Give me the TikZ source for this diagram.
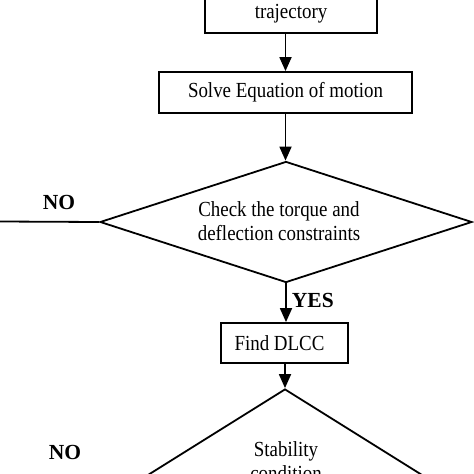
\documentclass[tikz,border=0pt]{standalone}
\usepackage{fontspec}
\setmainfont{Liberation Serif}
\newfontfamily\condserif[FakeStretch=0.88]{Liberation Serif}
\usetikzlibrary{arrows.meta,shapes.geometric}
\begin{document}
\begin{tikzpicture}[x=1pt,y=-1pt,
  line width=1.8pt,
  txt/.style={font=\condserif\fontsize{21.5}{24}\selectfont, inner sep=0pt, align=center},
  lbl/.style={font=\fontsize{21.5}{24}\selectfont\bfseries, inner sep=0pt},
  procbox/.style={draw, rectangle, inner sep=0pt, font=\condserif\fontsize{21.5}{24}\selectfont},
  decision/.style={draw, diamond, inner sep=0pt, shape aspect=3},
  flow/.style={-{Triangle[width=12pt,length=14pt]}}
]
\useasboundingbox (0,0) rectangle (474,474);
\clip (0,0) rectangle (474,474);
\fill[white] (0,0) rectangle (474,474);

% top box (cut by the upper edge)
\node[procbox, anchor=base, text height=45pt, text depth=15pt, minimum width=172pt] (traj) at (291,18) {trajectory};

% solve box
\node[procbox, minimum width=253pt, minimum height=41pt] (solve) at (285.5,92.5) {Solve Equation of motion};

% first decision
\node[decision, minimum width=372pt, minimum height=121pt] (d1) at (286,222) {};
\node[txt] (d1text) at (279,221) {Check the torque and\\deflection constraints};

% find DLCC box
\node[procbox, minimum width=127pt, minimum height=40pt] (dlcc) at (284.5,343) {};
\node[txt] (dlcctext) at (279.5,343) {Find DLCC};

% second decision (cut by the lower edge)
\node[decision, minimum width=278pt, minimum height=174pt, shape aspect=1.6] (d2) at (285,476) {};
\node[txt, anchor=base] (d2text) at (286,480) {Stability\\condition};

% labels
\node[lbl] (no1) at (59,202) {NO};
\node[lbl, anchor=west] (yes) at (291,300) {YES};
\node[lbl] (no2) at (65,452) {NO};

% free ends of NO lines
\coordinate (no1end) at (0,221.5);
\coordinate (no2end) at (0,476);

% connectors
\draw[flow] (solve.north |- traj.south) -- (solve.north);
\draw[flow] (solve.south) -- (solve.south |- d1.north);
\draw[flow] (d1.south) -- (d1.south |- dlcc.north);
\draw[flow] (dlcc.south -| d2.north) -- (d2.north);
\draw (d1.west) -- (no1end);
\draw (d2.west) -- (no2end);
\end{tikzpicture}
\end{document}
